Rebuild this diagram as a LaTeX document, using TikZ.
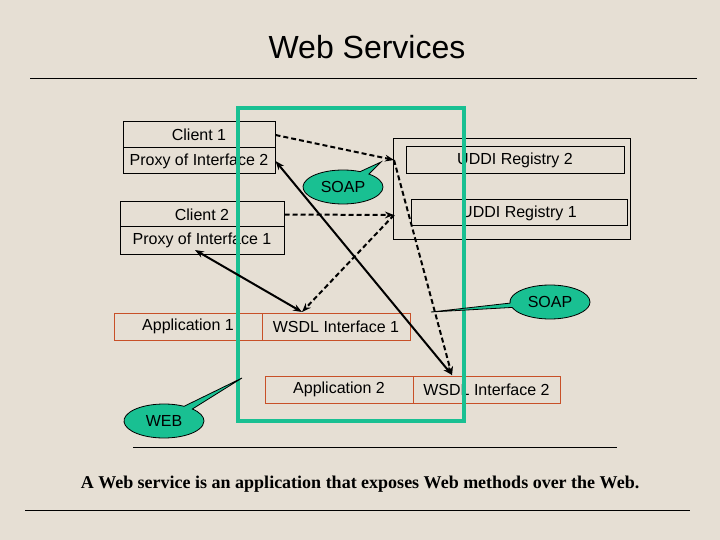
\documentclass[tikz,border=0pt]{standalone}
\usepackage{fontspec}
\setmainfont{Liberation Sans}
\newfontfamily\capfont{Liberation Serif}
\usetikzlibrary{shapes.callouts,arrows.meta}
\definecolor{bg}{RGB}{230,223,212}
\definecolor{grn}{RGB}{25,192,146}
\definecolor{brn}{RGB}{200,80,40}
\begin{document}
\begin{tikzpicture}[x=1pt,y=-1pt,
  bx/.style={draw=black,line width=1pt,inner sep=0,font=\fontsize{16}{16}\selectfont},
  ob/.style={draw=brn,line width=1pt,inner sep=0,font=\fontsize{16}{16}\selectfont},
  co/.style={ellipse callout,draw=black,fill=grn,line width=0.8pt,minimum width=80pt,minimum height=34pt,inner sep=0,font=\fontsize{16}{16}\selectfont},
  da/.style={line width=2pt,dash pattern=on 5pt off 3pt,-{Stealth[length=9pt]}},
  sa/.style={line width=2pt,{Stealth[length=9pt]}-{Stealth[length=9pt]}}]
\fill[bg] (0,0) rectangle (720,540);
\useasboundingbox (0,0) rectangle (720,540);
\node (title) at (367,47) {\fontsize{32}{32}\selectfont Web Services};
\draw[line width=0.8pt] (30,78) -- (697,78);
% clients
\node[bx,minimum width=152pt,minimum height=26pt] (c1) at (199,135) {Client 1};
\node[bx,minimum width=152pt,minimum height=26pt] (p2) at (199,161) {Proxy of Interface 2};
\node[bx,minimum width=164pt,minimum height=25pt] (c2) at (202,214.5) {Client 2};
\node[bx,minimum width=164pt,minimum height=27pt] (p1) at (202,240.5) {Proxy of Interface 1};
% uddi
\node[bx,minimum width=237pt,minimum height=100pt] (ud) at (511.5,189) {};
\node[bx,minimum width=218pt,minimum height=27pt] (u2) at (515,160.5) {UDDI Registry 2};
\node[bx,minimum width=216pt,minimum height=26pt] (u1) at (519,213) {UDDI Registry 1};
% apps
\node[ob,minimum width=148pt,minimum height=27pt] (a1) at (188,326.5) {Application 1};
\node[ob,minimum width=148pt,minimum height=27pt] (w1) at (336,326.5) {WSDL Interface 1};
\node[ob,minimum width=148pt,minimum height=27pt] (a2) at (339,389.5) {Application 2};
\node[ob,minimum width=147pt,minimum height=27pt] (w2) at (486.5,389.5) {WSDL Interface 2};
% web rect
\draw[grn,line width=4.5pt] (238,108) rectangle (464,421);
\coordinate (h1) at (394,160);
\coordinate (h2) at (394,215);
% connectors
\draw[da] (c1.east) -- (h1);
\draw[da] (h1) -- (w2.north -| 452,0);
\draw[da] (c2.east) -- (h2);
\draw[da] (h2) -- (302,312);
\draw[sa] (p2.east) -- (452,375);
\draw[sa] (195,250) -- (302,312);
% callouts
\node[co,callout absolute pointer={(381,162)}] (s1) at (343,187) {SOAP};
\node[co,callout absolute pointer={(431,312)}] (s2) at (550,302) {SOAP};
\node[co,callout absolute pointer={(242,378)}] (web) at (164,421) {WEB};
\draw[line width=0.8pt] (133,447) -- (617,447);
\node (cap) at (360,484) {\capfont\bfseries\fontsize{18}{18}\selectfont A Web service is an application that exposes Web methods over the Web.};
\draw[line width=0.8pt] (25,510) -- (690,510);
\end{tikzpicture}
\end{document}
